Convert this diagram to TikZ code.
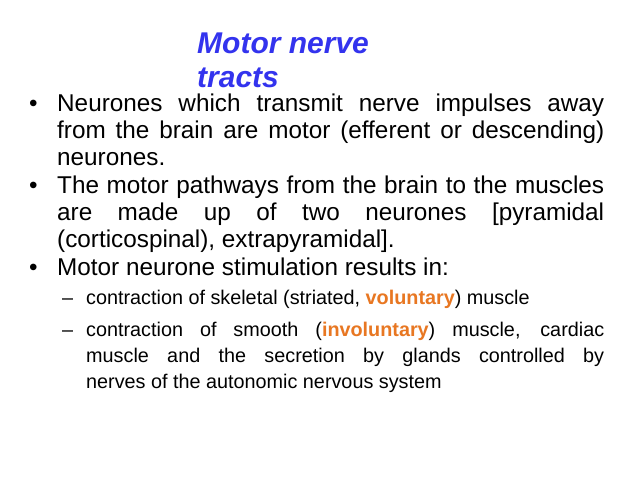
\documentclass[tikz,border=0pt]{standalone}
\usepackage{fontspec}
\setmainfont{Liberation Sans}
\definecolor{ttl}{HTML}{3333EE}
\definecolor{org}{HTML}{E87722}
\begin{document}
\begin{tikzpicture}[x=1pt,y=-1pt,
  bl/.style={anchor=base west,inner sep=0pt,font=\fontsize{24.3}{28}\selectfont},
  sb/.style={anchor=base west,inner sep=0pt,font=\fontsize{19.8}{22}\selectfont},
  tt/.style={anchor=base west,inner sep=0pt,font=\fontsize{30}{34}\selectfont\bfseries\itshape,text=ttl}]
\useasboundingbox[fill=white] (0,0) rectangle (638,478);
\node[tt] (t1) at (197,54) {Motor nerve};
\node[tt] (t2) at (197,88) {tracts};
\node[bl] (b1) at (29,112) {•};
\node[bl] (l1) at (57,112) {\hbox to 547pt{Neurones which transmit nerve impulses away}};
\node[bl] (l2) at (57,139) {\hbox to 547pt{from  the brain are motor (efferent or descending)}};
\node[bl] (l3) at (57,166) {neurones.};
\node[bl] (b2) at (29,194) {•};
\node[bl] (l4) at (57,194) {\hbox to 547pt{The motor pathways from the brain to the muscles}};
\node[bl] (l5) at (57,221) {\hbox to 547pt{are made up of two neurones [pyramidal}};
\node[bl] (l6) at (57,248) {(corticospinal), extrapyramidal].};
\node[bl] (b3) at (29,276) {•};
\node[bl] (l7) at (57,276) {Motor neurone stimulation results in:};
\node[sb] (d1) at (62,305) {–};
\node[sb] (s1) at (86,305) {contraction of skeletal (striated, {\bfseries\color{org}voluntary}) muscle};
\node[sb] (d2) at (62,337) {–};
\node[sb] (s2) at (86,337) {\hbox to 518pt{contraction of smooth ({\bfseries\color{org}involuntary}) muscle, cardiac}};
\node[sb] (s3) at (86,363) {\hbox to 518pt{muscle  and the secretion by glands controlled by}};
\node[sb] (s4) at (86,389) {nerves of the  autonomic nervous system};
\end{tikzpicture}
\end{document}
